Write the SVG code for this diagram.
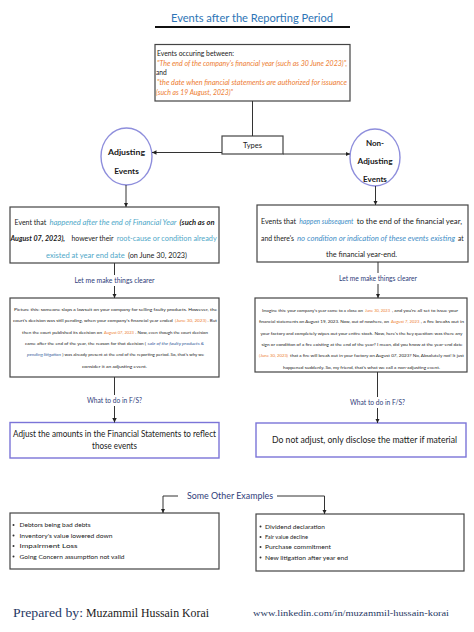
<svg xmlns="http://www.w3.org/2000/svg" width="474" height="632" viewBox="0 0 474 632">
<defs>
<marker id="ah" viewBox="0 0 6 6" refX="6" refY="3" markerWidth="4.5" markerHeight="4.5" orient="auto" markerUnits="userSpaceOnUse"><path d="M0,0 L6,3 L0,6 z" fill="#222"/></marker>
</defs>
<style>
text{font-family:Lato,"Open Sans","Liberation Sans",sans-serif;fill:#1a1a1a}
.box{fill:#fff;stroke:#444;stroke-width:1.2}
.abox{fill:#fff;stroke:#7B74D8;stroke-width:1.4}
.circ{fill:#fff;stroke:#8E8EDC;stroke-width:1.4}
.ln{stroke:#333;stroke-width:1;fill:none}
.ar{stroke:#333;stroke-width:1;fill:none;marker-end:url(#ah)}
.or{fill:#ED7D31}
.tl{fill:#4FA8C8}
.bl{fill:#3F8EC6}
.nb{fill:#2F5597}
.nv{fill:#2F3D7A}
.it{font-style:italic}
.bi{font-style:italic;font-weight:bold}
.sm{font-size:4.6px}
.xs{font-size:4.3px}
.md{font-size:6.9px}
.mid{text-anchor:middle}
.ex{font-size:6.4px}
</style>
<rect width="474" height="632" fill="#fff"/>

<g id="title">
<text x="252" y="21.5" class="mid" font-size="12" style="fill:#2E75B6" textLength="162" lengthAdjust="spacingAndGlyphs">Events after the Reporting Period</text>
<line x1="155" y1="27" x2="350" y2="27" stroke="#111" stroke-width="2"/>
</g>

<g id="definition">
<rect class="box" x="155" y="44.5" width="195" height="56.5"/>
<text x="157" y="55.5" font-size="6.7" textLength="77" lengthAdjust="spacingAndGlyphs">Events occuring between:</text>
<text x="157" y="65.5" font-size="6.6" class="or it" textLength="190" lengthAdjust="spacingAndGlyphs">"The end of the company's financial year (such as 30 June 2023)",</text>
<text x="156" y="75" font-size="6.7">and</text>
<text x="157" y="84.5" font-size="6.6" class="or it" textLength="190" lengthAdjust="spacingAndGlyphs">"the date when financial statements are authorized for issuance</text>
<text x="156" y="94.5" font-size="6.6" class="or it" textLength="77" lengthAdjust="spacingAndGlyphs">(such as 19 August, 2023)"</text>
</g>

<g id="types">
<rect class="box" x="222" y="136" width="61" height="18"/>
<text x="252.5" y="148" class="mid" font-size="7.5">Types</text>
</g>

<g id="adjusting-circle">
<ellipse class="circ" cx="126.5" cy="156.5" rx="25.5" ry="28.5"/>
<text x="126.5" y="155" class="mid" font-size="8.3" font-weight="bold" textLength="37" lengthAdjust="spacingAndGlyphs">Adjusting</text>
<text x="126.5" y="174" class="mid" font-size="8.3" font-weight="bold">Events</text>
</g>

<g id="non-adjusting-circle">
<ellipse class="circ" cx="375" cy="157.5" rx="25" ry="28.5"/>
<text x="375" y="146" class="mid" font-size="8" font-weight="bold">Non-</text>
<text x="375" y="164" class="mid" font-size="7.8" font-weight="bold" textLength="35" lengthAdjust="spacingAndGlyphs">Adjusting</text>
<text x="375" y="182" class="mid" font-size="8" font-weight="bold">Events</text>
</g>

<g id="adjusting-definition">
<rect class="box" x="10" y="207" width="209" height="56"/>
<text x="14.5" y="224.5" class="md" textLength="31.7" lengthAdjust="spacingAndGlyphs">Event that</text>
<text x="49.4" y="224.5" class="md tl it" textLength="127" lengthAdjust="spacingAndGlyphs">happened after the end of Financial Year</text>
<text x="179.6" y="224.5" class="md bi" textLength="34.9" lengthAdjust="spacingAndGlyphs">(such as on</text>
<text x="10.5" y="241" class="md bi" textLength="54.5" lengthAdjust="spacingAndGlyphs">August 07, 2023),</text>
<text x="71.5" y="241" class="md" textLength="42" lengthAdjust="spacingAndGlyphs">however their</text>
<text x="116.7" y="241" class="md tl" textLength="100" lengthAdjust="spacingAndGlyphs">root-cause or condition already</text>
<text x="46" y="257.5" class="md tl" textLength="78.7" lengthAdjust="spacingAndGlyphs">existed at year end date</text>
<text x="128" y="257.5" class="md" textLength="59" lengthAdjust="spacingAndGlyphs">(on June 30, 2023)</text>
</g>

<g id="non-adjusting-definition">
<rect class="box" x="257" y="205" width="211" height="57"/>
<text x="261" y="223.5" class="md" textLength="35.1" lengthAdjust="spacingAndGlyphs">Events that</text>
<text x="299.3" y="223.5" class="md bl it" textLength="54.2" lengthAdjust="spacingAndGlyphs">happen subsequent</text>
<text x="356.7" y="223.5" class="md" textLength="105.3" lengthAdjust="spacingAndGlyphs">to the end of the financial year,</text>
<text x="261" y="240.5" class="md" textLength="33" lengthAdjust="spacingAndGlyphs">and there's</text>
<text x="297" y="240.5" class="md bl it" textLength="158" lengthAdjust="spacingAndGlyphs">no condition or indication of these events existing</text>
<text x="458" y="240.5" class="md" textLength="5.5" lengthAdjust="spacingAndGlyphs">at</text>
<text x="361.5" y="256.5" class="md mid" textLength="71" lengthAdjust="spacingAndGlyphs">the financial year-end.</text>
</g>

<g id="adjusting-example">
<rect class="box" x="10" y="298" width="209" height="79"/>
<text x="115.5" y="311" class="mid sm" textLength="203" lengthAdjust="spacingAndGlyphs">Picture this: someone slaps a lawsuit on your company for selling faulty products. However, the</text>
<text x="13" y="322.3" class="sm" textLength="159.8" lengthAdjust="spacingAndGlyphs">court's decision was still pending, when your company's financial year ended</text>
<text x="174.9" y="322.3" class="sm or" textLength="31.5" lengthAdjust="spacingAndGlyphs">(June 30, 2023)</text>
<text x="207.6" y="322.3" class="sm" textLength="9.3" lengthAdjust="spacingAndGlyphs">. But</text>
<text x="22" y="333.6" class="sm" textLength="80" lengthAdjust="spacingAndGlyphs">then the court published its decision on</text>
<text x="104" y="333.6" class="sm or" textLength="30" lengthAdjust="spacingAndGlyphs">August 07, 2023</text>
<text x="135.3" y="333.6" class="sm" textLength="72.7" lengthAdjust="spacingAndGlyphs">. Now, even though the court decision</text>
<text x="25" y="344.9" class="sm" textLength="121" lengthAdjust="spacingAndGlyphs">came after the end of the year, the reason for that decision (</text>
<text x="147.5" y="344.9" class="sm nb it" textLength="56.5" lengthAdjust="spacingAndGlyphs">sale of the faulty products &amp;</text>
<text x="27" y="356.2" class="sm nb it" textLength="34" lengthAdjust="spacingAndGlyphs">pending litigation</text>
<text x="62.3" y="356.2" class="sm" textLength="141.7" lengthAdjust="spacingAndGlyphs">) was already present at the end of the reporting period. So, that's why we</text>
<text x="114.5" y="367.5" class="mid sm" textLength="65" lengthAdjust="spacingAndGlyphs">consider it an adjusting event.</text>
</g>

<g id="non-adjusting-example">
<rect class="box" x="255" y="298" width="212" height="74"/>
<text x="262" y="312" class="xs" textLength="101" lengthAdjust="spacingAndGlyphs">Imagine this: your company's year came to a close on</text>
<text x="365" y="312" class="xs or" textLength="25" lengthAdjust="spacingAndGlyphs">June 30, 2023</text>
<text x="392" y="312" class="xs" textLength="66" lengthAdjust="spacingAndGlyphs">, and you're all set to issue your</text>
<text x="259" y="323.3" class="sm" textLength="130" lengthAdjust="spacingAndGlyphs">financial statements on August 19, 2023. Now, out of nowhere, on</text>
<text x="391" y="323.3" class="sm or" textLength="28.4" lengthAdjust="spacingAndGlyphs">August 7, 2023</text>
<text x="420.8" y="323.3" class="sm" textLength="43.2" lengthAdjust="spacingAndGlyphs">, a fire breaks out in</text>
<text x="361.5" y="334.6" class="mid sm" textLength="202" lengthAdjust="spacingAndGlyphs">your factory and completely wipes out your entire stock. Now, here's the key question: was there any</text>
<text x="362" y="345.9" class="mid sm" textLength="201" lengthAdjust="spacingAndGlyphs">sign or condition of a fire existing at the end of the year? I mean, did you know at the year-end date</text>
<text x="259" y="357.2" class="sm or" textLength="29" lengthAdjust="spacingAndGlyphs">(June 30, 2023)</text>
<text x="290" y="357.2" class="sm" textLength="174" lengthAdjust="spacingAndGlyphs">that a fire will break out in your factory on August 07, 2023? No, Absolutely not! It just</text>
<text x="361.5" y="368.5" class="mid sm" textLength="157" lengthAdjust="spacingAndGlyphs">happened suddenly. So, my friend, that's what we call a non-adjusting event.</text>
</g>

<g id="adjusting-action">
<rect class="abox" x="10" y="422.5" width="209" height="35.5"/>
<text x="114.5" y="436.5" class="mid" font-size="8.8" textLength="203" lengthAdjust="spacingAndGlyphs">Adjust the amounts in the Financial Statements to reflect</text>
<text x="114.5" y="448.5" class="mid" font-size="8.8" textLength="45" lengthAdjust="spacingAndGlyphs">those events</text>
</g>

<g id="non-adjusting-action">
<rect class="abox" x="256" y="423" width="210" height="34"/>
<text x="364.5" y="442.5" class="mid" font-size="8.8" textLength="185" lengthAdjust="spacingAndGlyphs">Do not adjust, only disclose the matter if material</text>
</g>

<g id="other-examples-label">
<text x="230" y="499" class="mid nv" font-size="9" textLength="86" lengthAdjust="spacingAndGlyphs">Some Other Examples</text>
</g>

<g id="adjusting-list">
<rect class="box" x="10" y="513" width="209" height="56"/>
<g fill="#333"><circle cx="13.5" cy="525" r="1"/><circle cx="13.5" cy="535.5" r="1"/><circle cx="13.5" cy="546" r="1"/><circle cx="13.5" cy="556.5" r="1"/></g>
<text x="19.5" y="527.3" class="ex" textLength="71" lengthAdjust="spacingAndGlyphs">Debtors being bad debts</text>
<text x="19.5" y="537.8" class="ex" textLength="93" lengthAdjust="spacingAndGlyphs">Inventory's value lowered down</text>
<text x="19.5" y="548.3" class="ex" textLength="58" lengthAdjust="spacingAndGlyphs">Impairment Loss</text>
<text x="19.5" y="558.8" class="ex" textLength="105" lengthAdjust="spacingAndGlyphs">Going Concern assumption not valid</text>
</g>

<g id="non-adjusting-list">
<rect class="box" x="256" y="514" width="208" height="57"/>
<g fill="#333"><circle cx="260.5" cy="526.5" r="1"/><circle cx="260.5" cy="537" r="1"/><circle cx="260.5" cy="547" r="1"/><circle cx="260.5" cy="557.5" r="1"/></g>
<text x="265" y="528.8" class="ex" textLength="60" lengthAdjust="spacingAndGlyphs">Dividend declaration</text>
<text x="265" y="539.3" class="ex" textLength="43" lengthAdjust="spacingAndGlyphs">Fair value decline</text>
<text x="265" y="549.3" class="ex" textLength="66" lengthAdjust="spacingAndGlyphs">Purchase commitment</text>
<text x="265" y="559.8" class="ex" textLength="83" lengthAdjust="spacingAndGlyphs">New litigation after year end</text>
</g>

<g id="footer">
<text x="13" y="617" font-size="13" style="font-family:'Liberation Serif','DejaVu Serif',serif;fill:#1F3864" textLength="70" lengthAdjust="spacingAndGlyphs">Prepared by:</text>
<text x="86" y="617" font-size="12.5" style="font-family:'Liberation Serif','DejaVu Serif',serif" textLength="123" lengthAdjust="spacingAndGlyphs">Muzammil Hussain Korai</text>
<text x="253" y="616" font-size="9" style="font-family:'Liberation Serif','DejaVu Serif',serif;fill:#1F3864" textLength="196" lengthAdjust="spacingAndGlyphs">www.linkedin.com/in/muzammil-hussain-korai</text>
</g>

<g id="connectors">
<line class="ln" x1="252.5" y1="101" x2="252.5" y2="136"/>
<line class="ar" x1="222" y1="152.5" x2="152" y2="152.5"/>
<line class="ar" x1="283" y1="154" x2="350" y2="154"/>
<line class="ar" x1="126" y1="185" x2="126" y2="207"/>
<line class="ar" x1="375.5" y1="186" x2="375.5" y2="205"/>
<line class="ln" x1="114.5" y1="263" x2="114.5" y2="275"/>
<text x="114.5" y="283" class="mid nv" font-size="6.8" textLength="80" lengthAdjust="spacingAndGlyphs">Let me make things clearer</text>
<line class="ar" x1="114.5" y1="286" x2="114.5" y2="298"/>
<line class="ln" x1="378" y1="262" x2="378" y2="273"/>
<text x="378" y="281" class="mid nv" font-size="6.8" textLength="78" lengthAdjust="spacingAndGlyphs">Let me make things clearer</text>
<line class="ar" x1="378" y1="284" x2="378" y2="298"/>
<line class="ln" x1="114.5" y1="377" x2="114.5" y2="395"/>
<text x="114.5" y="403" class="mid nv" font-size="8" textLength="55" lengthAdjust="spacingAndGlyphs">What to do in F/S?</text>
<line class="ar" x1="114.5" y1="406" x2="114.5" y2="422.5"/>
<line class="ln" x1="377.5" y1="372" x2="377.5" y2="397"/>
<text x="377.5" y="405" class="mid nv" font-size="8" textLength="55" lengthAdjust="spacingAndGlyphs">What to do in F/S?</text>
<line class="ar" x1="377.5" y1="408" x2="377.5" y2="423"/>
<polyline class="ar" points="178,496 163,496 163,513"/>
<polyline class="ar" points="277,496 324.5,496 324.5,514"/>
</g>
</svg>
